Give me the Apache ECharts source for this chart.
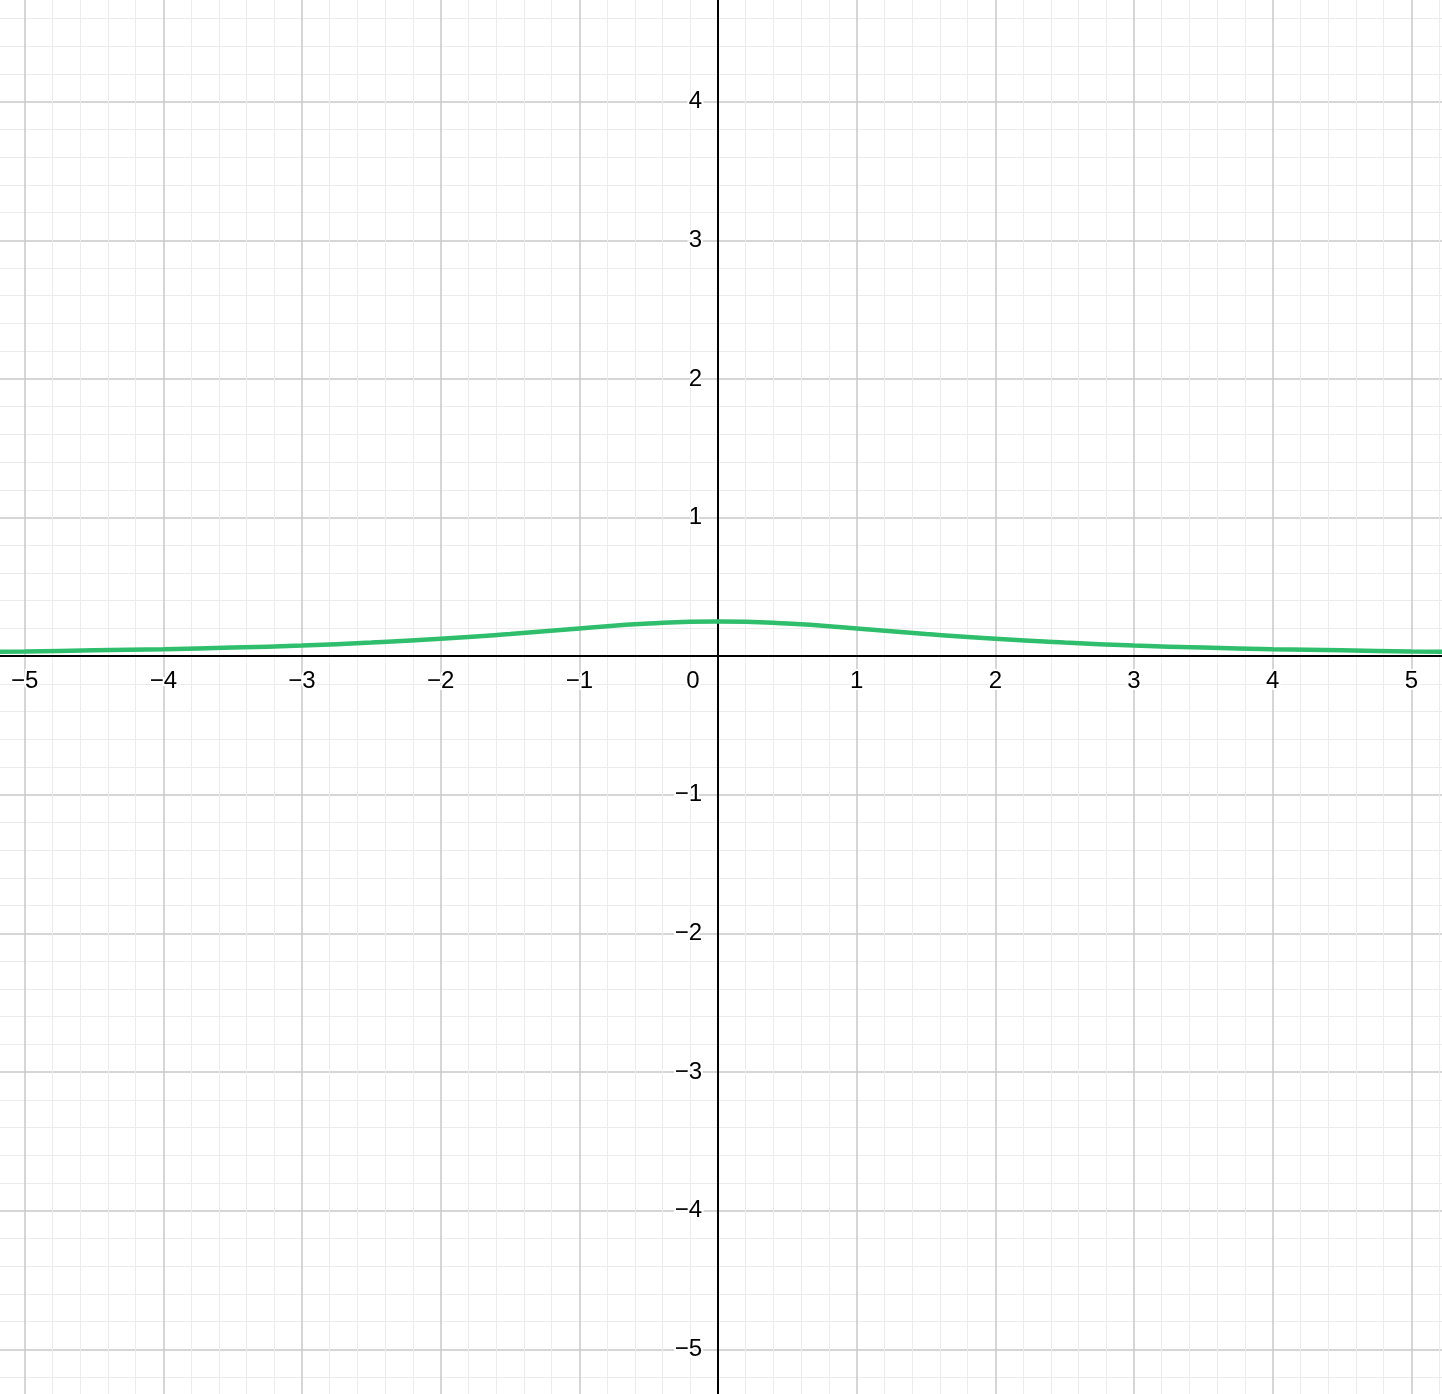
<!DOCTYPE html>
<html>
<head>
<meta charset="utf-8">
<script src="https://cdn.jsdelivr.net/npm/echarts@6/dist/echarts.min.js"></script>
<style>
  html, body { margin: 0; padding: 0; background: #fff; }
  #main { width: 1442px; height: 1394px; }
</style>
</head>
<body>
<div id="main"></div>
<script>
// points (x, y)
var xs = [-5.5, -5, -4.5, -4, -3.5, -3, -2.5, -2, -1.5, -1, -0.5, 0,
          0.5, 1, 1.5, 2, 2.5, 3, 3.5, 4, 4.5, 5, 5.5]
var ys = [0.029, 0.034, 0.042, 0.05, 0.062, 0.077, 0.098, 0.125, 0.16, 0.2, 0.235, 0.25,
          0.235, 0.2, 0.16, 0.125, 0.098, 0.077, 0.062, 0.05, 0.042, 0.034, 0.029]
var xRange = [-6, 6]
var yRange = [-6, 5]

var points = []
for (var i in xs) {
    points.push([xs[i], ys[i]])
}

function tickText(v) {
    return v < 0 ? '\u2212' + Math.abs(v) : String(v)
}

var labelFont = {
    fontSize: 24,
    color: '#000',
    fontFamily: 'Liberation Sans, Arial, sans-serif',
    textBorderColor: '#fff',
    textBorderWidth: 4
}

// grid + axis lines
function gridAxis(range) {
    return {
        type: 'value',
        min: range[0],
        max: range[1],
        interval: 1,
        axisLine: { onZero: true, lineStyle: { color: '#000', width: 2 } },
        axisTick: { show: false },
        axisLabel: { show: false },
        minorTick: { show: false, splitNumber: 5 },
        splitLine: { lineStyle: { color: '#c8c8c8', width: 1.5 } },
        minorSplitLine: { show: true, lineStyle: { color: '#ececec', width: 1 } }
    }
}

// labels only, moved onto the zero line afterwards
function labelAxis(range, pos, label) {
    return {
        type: 'value',
        position: pos,
        offset: 0,
        min: range[0],
        max: range[1],
        interval: 1,
        axisLine: { show: false },
        axisTick: { show: false },
        splitLine: { show: false },
        axisLabel: Object.assign(label, labelFont)
    }
}

var myChart = echarts.init(document.getElementById('main'))
myChart.setOption({
    animation: false,
    grid: {
        left: -114, right: -108, top: -37, bottom: -94,
        containLabel: false,
        outerBoundsMode: 'none'
    },
    xAxis: [
        gridAxis(xRange),
        labelAxis(xRange, 'bottom', {
            margin: 13,
            formatter: function (v) {
                return v === 0 ? '{z|0}' : tickText(v)
            },
            rich: {
                z: Object.assign({ padding: [0, 50, 0, 0] }, labelFont)
            }
        })
    ],
    yAxis: [
        gridAxis(yRange),
        labelAxis(yRange, 'left', {
            margin: 16,
            formatter: function (v) {
                return v === 0 ? '' : tickText(v)
            }
        })
    ],
    series: [{
        type: 'line',
        data: points,
        smooth: true,
        showSymbol: false,
        lineStyle: { color: '#2fbf6c', width: 4.5 }
    }]
})

var zeroY = myChart.convertToPixel({ yAxisIndex: 0 }, 0),
    bottomY = myChart.convertToPixel({ yAxisIndex: 0 }, yRange[0]),
    zeroX = myChart.convertToPixel({ xAxisIndex: 0 }, 0),
    leftX = myChart.convertToPixel({ xAxisIndex: 0 }, xRange[0])
myChart.setOption({
    xAxis: [{}, { offset: zeroY - bottomY }],
    yAxis: [{}, { offset: leftX - zeroX }]
})
</script>
</body>
</html>
